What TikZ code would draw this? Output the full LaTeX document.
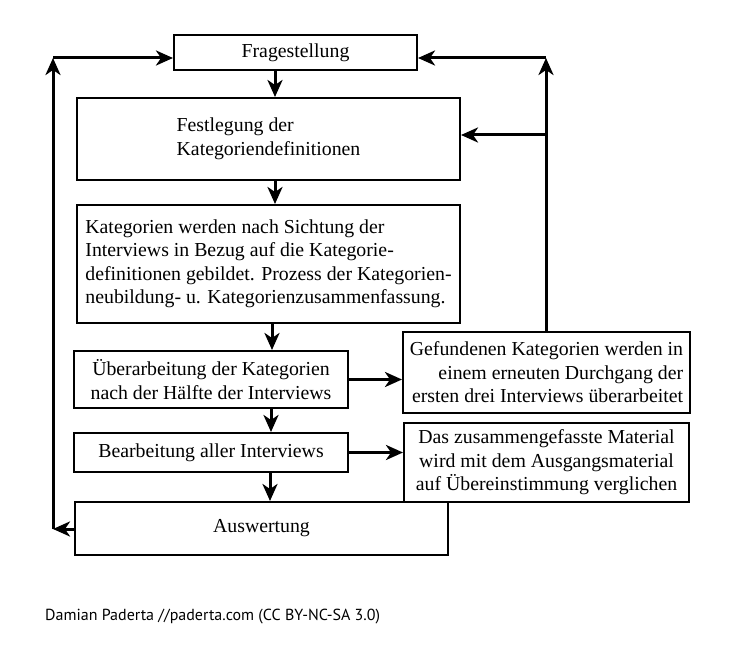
\documentclass[tikz,border=0pt]{standalone}
\usepackage{fontspec}
\setmainfont{Liberation Serif}
\newfontfamily\creditfont{PT Sans}
\usetikzlibrary{arrows.meta}
\begin{document}
\begin{tikzpicture}[x=1pt,y=-1pt,
  box/.style={draw, line width=2pt, inner sep=4pt, font=\fontsize{19.8}{23.5}\selectfont},
  arr/.style={line width=3pt, -{Stealth[length=17pt,width=15pt,inset=5pt]}},
  ln/.style={line width=3pt}]
\useasboundingbox (0,0) rectangle (732,650);
\node[box, minimum width=243, minimum height=35] (frage) at (295.5,52.5) {Fragestellung};
\node[box, minimum width=383, minimum height=82, align=left] (fest) at (268.5,139) {Festlegung der\\Kategoriendefinitionen};
\node[box, minimum width=383, minimum height=118, align=left] (kat) at (268.5,264) {Kategorien werden nach Sichtung der\\Interviews in Bezug auf die Kategorie-\\definitionen gebildet. Prozess der Kategorien-\\neubildung- u. Kategorienzusammenfassung.};
\node[box, minimum width=274, minimum height=57, align=center] (ueber) at (211,379.5) {Überarbeitung der Kategorien\\nach der Hälfte der Interviews};
\node[box, minimum width=274, minimum height=39] (bearb) at (211,452.5) {Bearbeitung aller Interviews};
\node[box, minimum width=373, minimum height=53] (ausw) at (261.5,528.5) {Auswertung};
\node[box, minimum width=287, minimum height=81, align=right] (gef) at (546.5,372.5) {Gefundenen Kategorien werden in\\einem erneuten Durchgang der\\ersten drei Interviews überarbeitet};
\node[box, minimum width=285, minimum height=79, align=center] (das) at (546.5,462.5) {Das zusammengefasste Material\\wird mit dem Ausgangsmaterial\\auf Übereinstimmung verglichen};
\node[anchor=west, inner sep=0pt, font=\creditfont\fontsize{16}{18}\selectfont] (credit) at (45,617) {Damian Paderta //paderta.com (CC BY-NC-SA 3.0)};
% column coordinates
\coordinate (c1) at (275,0);
\coordinate (c2) at (272,0);
\coordinate (c3) at (271,0);
\coordinate (c4) at (270,0);
\coordinate (rt) at (546,58);
\coordinate (rb) at (546,135);
\coordinate (lt) at (53,58);
\coordinate (lb) at (53,529);
% main flow
\draw[arr] (frage.south -| c1) -- (fest.north -| c1);
\draw[arr] (fest.south -| c1) -- (kat.north -| c1);
\draw[arr] (kat.south -| c2) -- (ueber.north -| c2);
\draw[arr] (ueber.south -| c3) -- (bearb.north -| c3);
\draw[arr] (bearb.south -| c4) -- (ausw.north -| c4);
\draw[arr] (ueber.east) -- (ueber.east -| gef.west);
\draw[arr] (bearb.east) -- (bearb.east -| das.west);
% right feedback
\draw[arr] (gef.north -| rt) -- (rt);
\draw[arr] (rt) -- (rt -| frage.east);
\draw[arr] (rb) -- (rb -| fest.east);
% left feedback
\draw[arr] (ausw.west |- lb) -- (lb);
\draw[arr] (lb) -- (lt);
\draw[arr] (lt) -- (lt -| frage.west);
\end{tikzpicture}
\end{document}
